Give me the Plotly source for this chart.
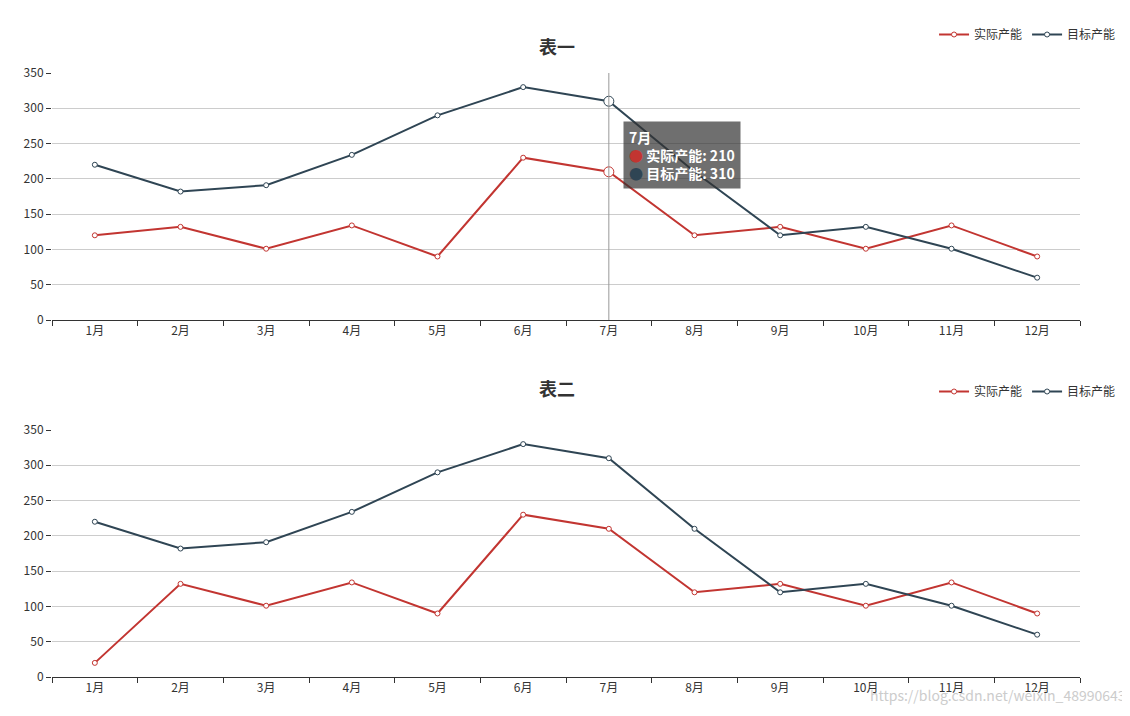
import plotly.graph_objects as go

months = ["1月","2月","3月","4月","5月","6月","7月","8月","9月","10月","11月","12月"]
actual1 = [120,132,101,134,90,230,210,120,132,101,134,90]
target1 = [220,182,191,234,290,330,310,210,120,132,101,60]
actual2 = [20,132,101,134,90,230,210,120,132,101,134,90]
target2 = [220,182,191,234,290,330,310,210,120,132,101,60]
yticks = [0,50,100,150,200,250,300,350]

RED = "#c23531"
DARK = "#2f4554"
FONT = "Noto Sans CJK SC"
xs = list(range(len(months)))

fig = go.Figure()
def add(xa, ya, data, name, color, legend):
    fig.add_trace(go.Scatter(
        x=xs, y=data, name=name, mode="lines+markers", xaxis=xa, yaxis=ya,
        line=dict(color=color, width=2),
        marker=dict(size=5, color="white", line=dict(color=color, width=1)),
        legend=legend, hoverinfo="skip"))

add("x", "y", actual1, "实际产能", RED, "legend")
add("x", "y", target1, "目标产能", DARK, "legend")
add("x2", "y2", actual2, "实际产能", RED, "legend2")
add("x2", "y2", target2, "目标产能", DARK, "legend2")

fig.add_trace(go.Scatter(x=[6, 6], y=[actual1[6], target1[6]], mode="markers",
    marker=dict(size=10, color="white", line=dict(color=[RED, DARK], width=1)),
    showlegend=False, hoverinfo="skip", xaxis="x", yaxis="y"))

xdom = [44/1130, 1072/1130]
xax = dict(range=[-0.5, 11.5], tickmode="array", tickvals=xs, ticktext=months,
           ticks="", showgrid=False, zeroline=False, showline=True, linecolor="#333",
           tickfont=dict(size=12, color="#333"),
           minor=dict(tickmode="linear", tick0=-0.5, dtick=1, ticks="outside",
                      ticklen=5, tickcolor="#333", showgrid=False),
           domain=xdom)
yax = dict(range=[0, 350], tickvals=yticks, showgrid=True, gridcolor="#ccc",
           zeroline=False, showline=False, ticks="outside", ticklen=5, tickcolor="#333",
           tickfont=dict(size=12, color="#333"))

fig.update_layout(
    width=1130, height=716, margin=dict(l=0, r=0, t=0, b=0, autoexpand=False),
    paper_bgcolor="white", plot_bgcolor="white",
    font=dict(family=FONT, color="#333"),
    xaxis=dict(xax, anchor="y"),
    yaxis=dict(yax, domain=[1-312/716, 1-65/716], anchor="x"),
    xaxis2=dict(xax, anchor="y2"),
    yaxis2=dict(yax, domain=[1-669/716, 1-422/716], anchor="x2"),
    legend=dict(orientation="h", x=0.985, xanchor="right", y=1-12/716, yanchor="top",
                font=dict(size=12, color="#333"), bgcolor="rgba(0,0,0,0)"),
    legend2=dict(orientation="h", x=0.985, xanchor="right", y=1-369/716, yanchor="top",
                 font=dict(size=12, color="#333"), bgcolor="rgba(0,0,0,0)"),
    showlegend=True,
    shapes=[dict(type="line", xref="x", yref="y", x0=6, x1=6, y0=0, y1=350,
                 line=dict(color="#999", width=1))],
    annotations=[
        dict(text="<b>表一</b>", x=549/1130, y=1-23/716, xref="paper", yref="paper",
             showarrow=False, font=dict(size=18, color="#333")),
        dict(text="<b>表二</b>", x=549/1130, y=1-380/716, xref="paper", yref="paper",
             showarrow=False, font=dict(size=18, color="#333")),
        dict(text="<b>7月</b><br><span style='color:#c23531'>●</span> <b>实际产能: 210</b><br>"
                  "<span style='color:#2f4554'>●</span> <b>目标产能: 310</b>",
             x=6, y=282, xref="x", yref="y", xanchor="left", yanchor="top", xshift=14,
             align="left", showarrow=False, bgcolor="rgba(50,50,50,0.7)",
             borderpad=5, font=dict(size=14, color="white")),
        dict(text="https://blog.csdn.net/weixin_48990643", x=1120/1130, y=1-699/716,
             xref="paper", yref="paper", xanchor="right", showarrow=False,
             font=dict(size=14, color="#ccc")),
    ])

fig.write_html("out.html")
